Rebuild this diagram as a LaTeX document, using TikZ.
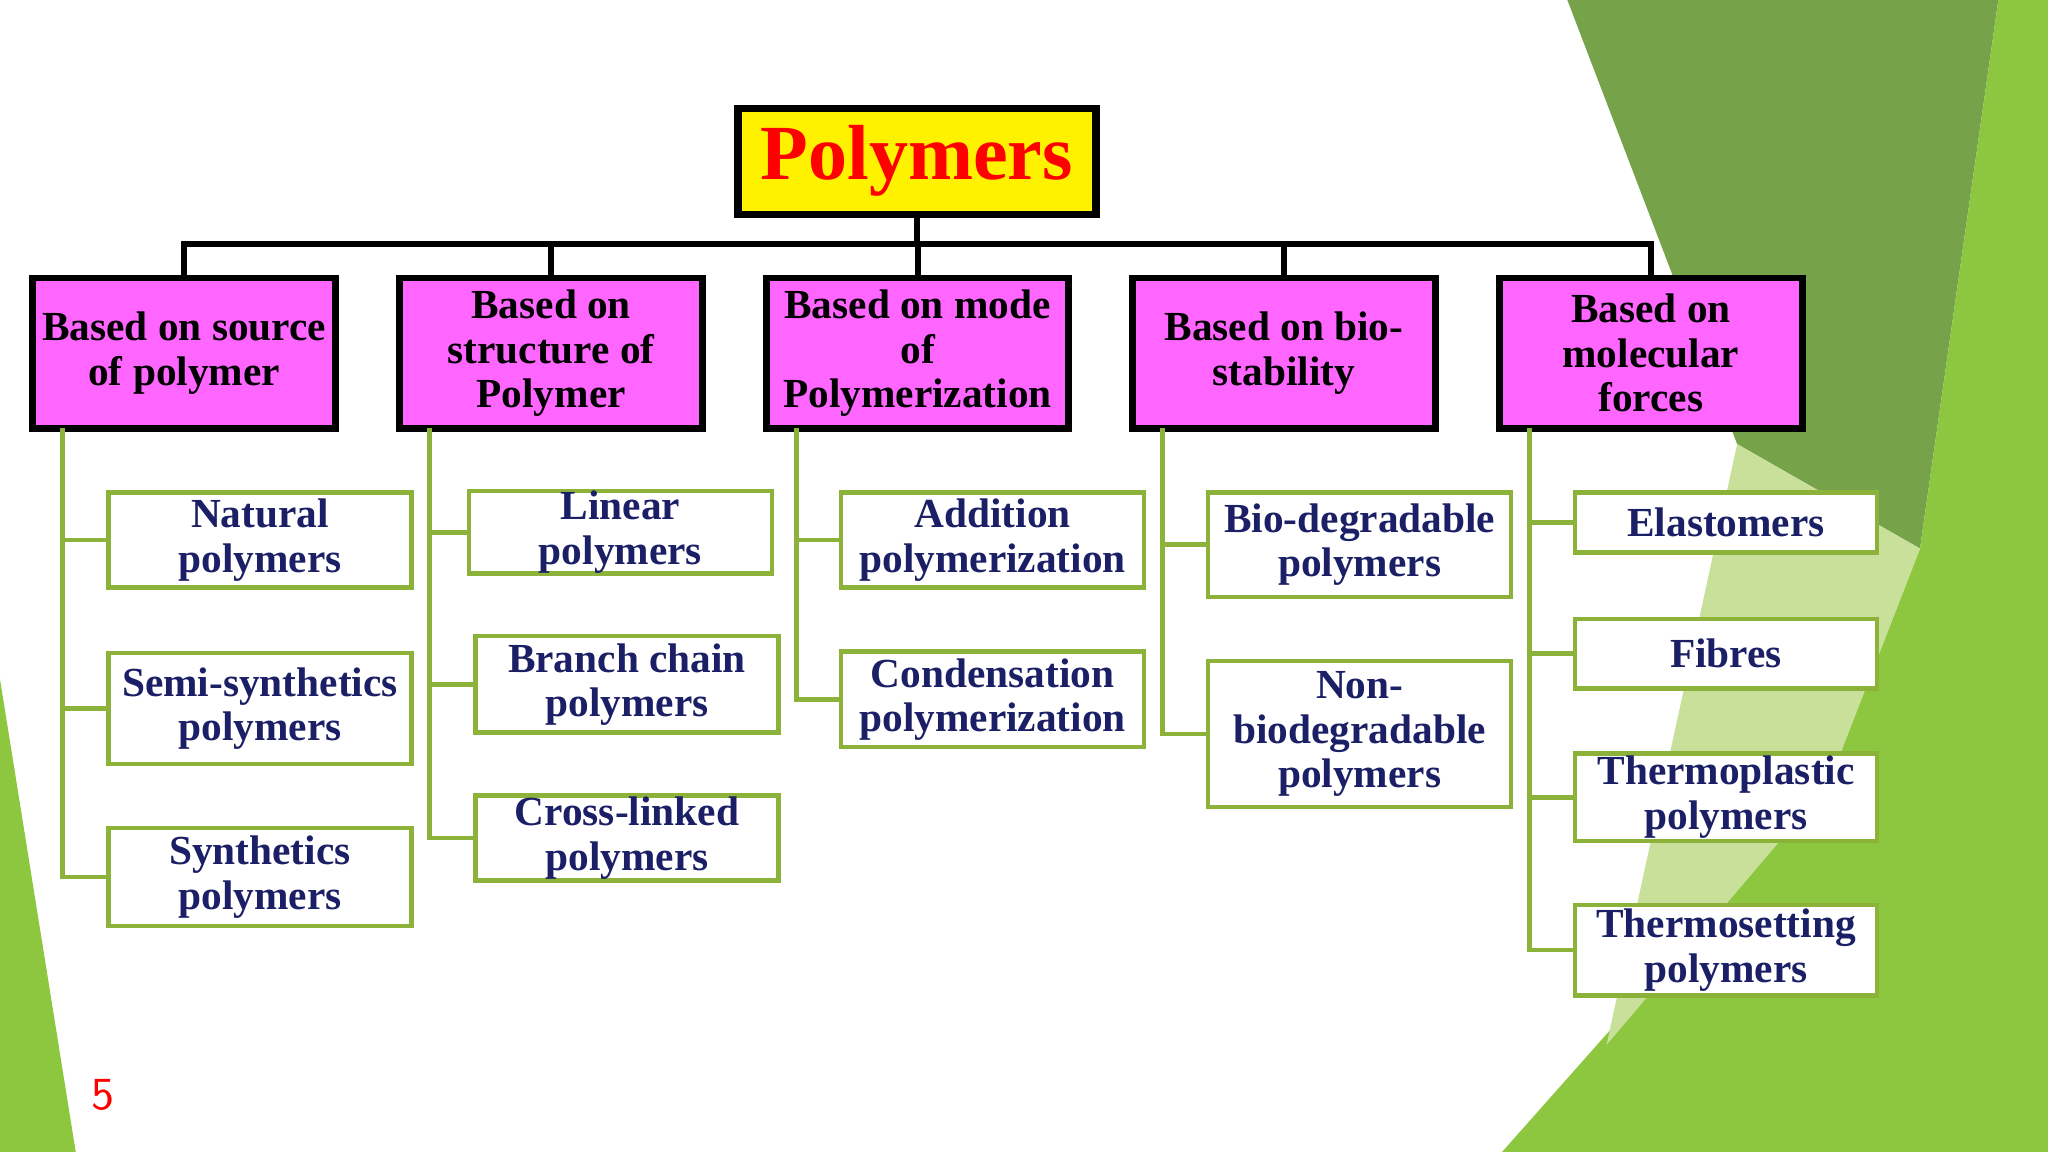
\documentclass[tikz,border=0pt]{standalone}
\usepackage{fontspec}
\setmainfont{Liberation Serif}
\usetikzlibrary{positioning}
\definecolor{leaf}{HTML}{8DC63F}
\definecolor{moss}{HTML}{76A34A}
\definecolor{pale}{HTML}{C8E09A}
\definecolor{edge}{HTML}{8CB23A}
\definecolor{ink}{HTML}{1B1F66}
\definecolor{pink}{HTML}{FF66FF}
\tikzset{
  root/.style={draw=black, line width=1.6pt, fill=yellow, text=red, font=\bfseries\fontsize{17}{19}\selectfont, inner sep=0pt},
  group/.style={draw=black, line width=1.4pt, fill=pink, text=black, align=center, inner sep=0pt, font=\bfseries\fontsize{9}{9.7}\selectfont},
  leafbox/.style={draw=edge, line width=1pt, fill=white, text=ink, align=center, inner sep=0pt, font=\bfseries\fontsize{9}{9.7}\selectfont},
  link/.style={line width=1.3pt, black},
  twig/.style={line width=1pt, edge}
}
% box from two corners in pixel units
\newcommand{\pbox}[6]{\node[#1, minimum width={(#4-#2)*0.01cm}, minimum height={(#5-#3)*0.01cm}] (#6) at ({(#2+#4)/2},{(#3+#5)/2})}
\begin{document}
\begin{tikzpicture}[x=0.01cm, y=-0.01cm]
	\useasboundingbox (0,0) rectangle (1568,882);
	% green background
	\fill[moss] (1200,0) -- (1530,0) -- (1470,420) -- (1330,340) -- cycle;
	\fill[leaf] (1530,0) -- (1568,0) -- (1568,882) -- (1150,882) -- (1400,600) -- (1470,420) -- cycle;
	\fill[pale] (1330,340) -- (1470,420) -- (1400,600) -- (1230,800) -- cycle;
	\fill[leaf] (0,520) -- (58,882) -- (0,882) -- cycle;
	\node[red, font=\fontsize{10}{12}\selectfont\sffamily] (page) at (79,838) {5};

	\pbox{root}{565}{83}{839}{164}{poly} {Polymers};
	\pbox{group}{25}{213}{257}{328}{source} {Based on source\\of polymer};
	\pbox{group}{306}{213}{538}{328}{struct} {Based on\\structure of\\Polymer};
	\pbox{group}{587}{213}{818}{328}{mode} {Based on mode\\of\\Polymerization};
	\pbox{group}{867}{213}{1099}{328}{bio} {Based on bio-\\stability};
	\pbox{group}{1148}{213}{1380}{328}{force} {Based on\\molecular\\forces};

	\coordinate (bus) at (702,187);
	\draw[link] (poly) -- (bus);
	\draw[link] (source.north) |- (bus) -| (force.north);
	\foreach \g in {struct,mode,bio}{
		\draw[link] (\g.north) -- (\g.north |- bus);
	}

	% source
	\pbox{leafbox}{83}{377}{315}{450}{natural} {Natural\\polymers};
	\pbox{leafbox}{83}{500}{315}{585}{semi} {Semi-synthetics\\polymers};
	\pbox{leafbox}{83}{634}{315}{709}{synth} {Synthetics\\polymers};
	% structure
	\pbox{leafbox}{359}{377}{591}{438}{linear} {Linear\\polymers};
	\pbox{leafbox}{364}{487}{596}{561}{branch} {Branch chain\\polymers};
	\pbox{leafbox}{364}{609}{596}{674}{cross} {Cross-linked\\polymers};
	% mode
	\pbox{leafbox}{644}{377}{876}{450}{addition} {Addition\\polymerization};
	\pbox{leafbox}{644}{499}{876}{572}{conden} {Condensation\\polymerization};
	% bio-stability
	\pbox{leafbox}{925}{377}{1157}{457}{degrad} {Bio-degradable\\polymers};
	\pbox{leafbox}{925}{506}{1157}{618}{nondeg} {Non-\\biodegradable\\polymers};
	% forces
	\pbox{leafbox}{1206}{377}{1437}{423}{elast} {Elastomers};
	\pbox{leafbox}{1206}{474}{1437}{527}{fibre} {Fibres};
	\pbox{leafbox}{1206}{577}{1437}{644}{tplast} {Thermoplastic\\polymers};
	\pbox{leafbox}{1206}{693}{1437}{762}{tset} {Thermosetting\\polymers};

	% spines
	\foreach \g/\x/\kids in {source/48/{natural,semi,synth}, struct/329/{linear,branch,cross},
		mode/610/{addition,conden}, bio/890/{degrad,nondeg}, force/1171/{elast,fibre,tplast,tset}}{
		\coordinate (\g-top) at (\x,328);
		\foreach \k in \kids{
			\draw[twig] (\g-top) |- (\k.west);
		}
	}
\end{tikzpicture}
\end{document}
